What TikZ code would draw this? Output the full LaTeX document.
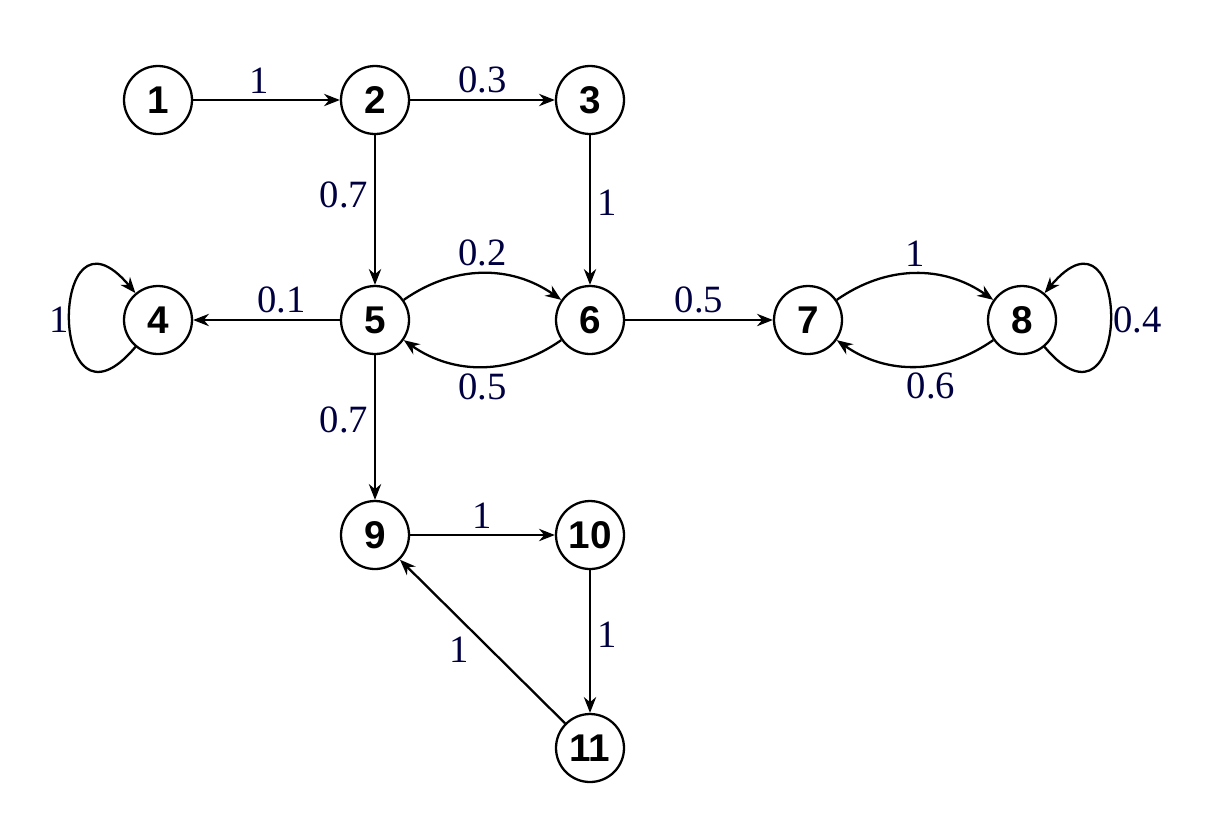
\documentclass[tikz,border=0pt]{standalone}
\usepackage{fontspec}
\setmainfont{Liberation Serif}
\newfontfamily\nodefont{Liberation Sans}
\usetikzlibrary{arrows.meta}
\begin{document}
\begin{tikzpicture}[x=0.02cm,y=-0.02cm,
  st/.style={circle,draw,line width=1.3pt,minimum size=1.36cm,inner sep=0pt,font=\nodefont\bfseries\fontsize{22}{22}\selectfont},
  ed/.style={draw,line width=1.3pt,-{Stealth[length=9pt,width=7pt]}},
  lb/.style={font=\fontsize{22}{22}\selectfont,text=black!75!blue}]
\useasboundingbox (0,0) rectangle (1230,826);
\node[st] (n1) at (158,100) {1};
\node[st] (n2) at (375,100) {2};
\node[st] (n3) at (590,100) {3};
\node[st] (n4) at (158,320) {4};
\node[st] (n5) at (375,320) {5};
\node[st] (n6) at (590,320) {6};
\node[st] (n7) at (808,320) {7};
\node[st] (n8) at (1022,320) {8};
\node[st] (n9) at (375,535) {9};
\node[st] (n10) at (590,535) {10};
\node[st] (n11) at (590,748) {11};
\path[ed] (n1) -- node[lb,above,pos=0.45] {1} (n2);
\path[ed] (n2) -- node[lb,above] {0.3} (n3);
\path[ed] (n2) -- node[lb,left,pos=0.4] {0.7} (n5);
\path[ed] (n3) -- node[lb,right,pos=0.45] {1} (n6);
\path[ed] (n5) -- node[lb,above,pos=0.4] {0.1} (n4);
\path[ed] (n5) to[bend left=35] node[lb,above] {0.2} (n6);
\path[ed] (n6) to[bend left=35] node[lb,below] {0.5} (n5);
\path[ed] (n6) -- node[lb,above] {0.5} (n7);
\path[ed] (n7) to[bend left=35] node[lb,above] {1} (n8);
\path[ed] (n8) to[bend left=35] node[lb,below,pos=0.4] {0.6} (n7);
\path[ed] (n4) to[out=230,in=130,looseness=6.5] node[lb,left,inner sep=0pt] {1} (n4);
\path[ed] (n8) to[out=-50,in=50,looseness=6.5] node[lb,right,inner sep=1pt] {0.4} (n8);
\path[ed] (n5) -- node[lb,left,pos=0.45] {0.7} (n9);
\path[ed] (n9) -- node[lb,above] {1} (n10);
\path[ed] (n10) -- node[lb,right,pos=0.45] {1} (n11);
\path[ed] (n11) -- node[lb,left,pos=0.45,inner sep=12pt] {1} (n9);
\end{tikzpicture}
\end{document}
